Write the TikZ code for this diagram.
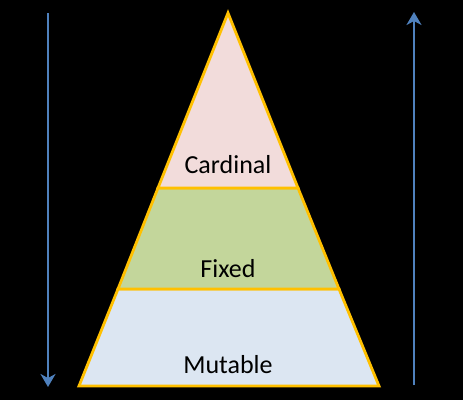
\documentclass[tikz,border=0pt]{standalone}
\usepackage{fontspec}
\setmainfont{Carlito}
\usetikzlibrary{arrows.meta}
\definecolor{pyrpink}{HTML}{F2DCDB}
\definecolor{pyrgreen}{HTML}{C3D69B}
\definecolor{pyrblue}{HTML}{DCE6F2}
\definecolor{pyrgold}{HTML}{FFC000}
\definecolor{flowblue}{HTML}{4F81BD}

\begin{document}
\begin{tikzpicture}[
  x=1pt,y=-1pt,
  layer/.style={draw=pyrgold,line width=2.8pt,line join=miter},
  lbl/.style={anchor=base,font=\fontsize{26}{30}\selectfont,text=black},
  flow/.style={draw=flowblue,line width=2.8pt,-{Stealth[length=13pt,width=15pt,inset=4pt]}}]
\fill[black] (0,0) rectangle (463,400);
\useasboundingbox (0,0) rectangle (463,400);
% corners of the pyramid
\coordinate (apex) at (228,13);
\coordinate (tl) at (158,188);
\coordinate (tr) at (298,188);
\coordinate (ml) at (118,289);
\coordinate (mr) at (339,289);
\coordinate (bl) at (79,386);
\coordinate (br) at (379,386);
% layers
\path[layer,fill=pyrblue] (ml) -- (mr) -- (br) -- (bl) -- cycle;
\path[layer,fill=pyrgreen] (tl) -- (tr) -- (mr) -- (ml) -- cycle;
\path[layer,fill=pyrpink] (apex) -- (tr) -- (tl) -- cycle;
\node[lbl] (card) at (228,173) {Cardinal};
\node[lbl] (fix) at (228,277) {Fixed};
\node[lbl] (mut) at (228,373) {Mutable};
% side arrows
\coordinate (ltop) at (48,13);
\coordinate (lbot) at (48,387);
\coordinate (rbot) at (414,385);
\coordinate (rtop) at (414,12);
\draw[flow] (ltop) -- (lbot);
\draw[flow] (rbot) -- (rtop);
\end{tikzpicture}
\end{document}
